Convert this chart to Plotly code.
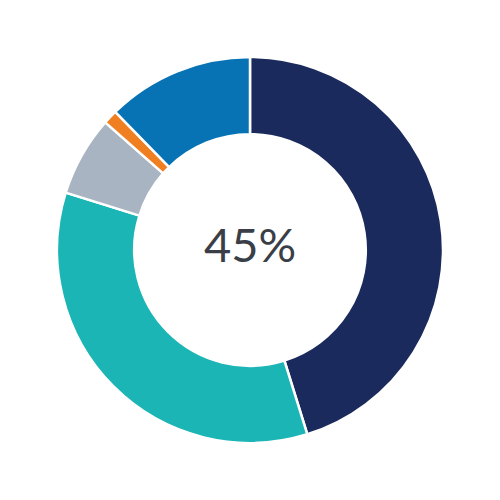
import plotly.graph_objects as go

labels = ["A", "B", "C", "D", "E"]
values = [45.2, 34.6, 6.7, 1.2, 12.3]
colors = ["#1b2a5c", "#1bb5b5", "#a9b4c2", "#f07f22", "#0772b4"]
center_text = "45%"

fig = go.Figure(go.Pie(
    labels=labels, values=values, hole=0.6, sort=False, direction="clockwise",
    rotation=0, marker=dict(colors=colors, line=dict(color="white", width=2.5)),
    textinfo="none", hoverinfo="none", showlegend=False,
))
fig.add_annotation(text=center_text, x=0.5, y=0.515, xref="paper", yref="paper",
                   showarrow=False, font=dict(family="Lato", size=47, color="#3a3f47"))
fig.update_layout(width=500, height=500, margin=dict(l=49, r=65, t=49, b=65),
                  paper_bgcolor="white", plot_bgcolor="white")
fig.write_html("out.html")
